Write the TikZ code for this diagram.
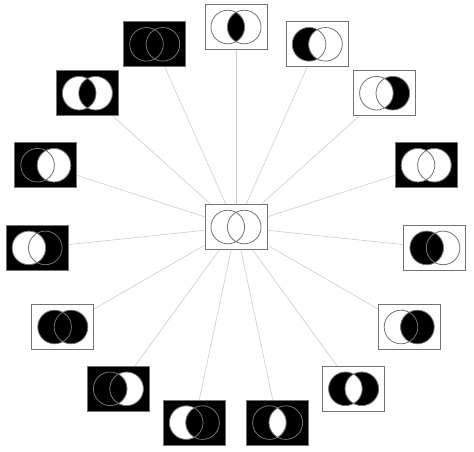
\documentclass[tikz,border=0pt]{standalone}
\usetikzlibrary{shapes}
\tikzset{vbox/.style={shape=rectangle,draw=black!55,line width=1pt,minimum width=62pt,minimum height=45pt,inner sep=0pt}}
% #1 box, #2 left circle, #3 right circle, #4 lens
\newcommand{\vennfill}[4]{%
\fill[#2] ([xshift=-8.2pt]#1.center) circle (16.8pt);
\fill[#3] ([xshift=8.2pt]#1.center) circle (16.8pt);
\begin{scope}
\clip ([xshift=-8.2pt]#1.center) circle (16.8pt);
\fill[#4] ([xshift=8.2pt]#1.center) circle (16.8pt);
\end{scope}
\draw[black!55,line width=0.8pt] ([xshift=-8.2pt]#1.center) circle (16.8pt) ([xshift=8.2pt]#1.center) circle (16.8pt);
}
\begin{document}
\begin{tikzpicture}[x=1pt,y=-1pt]
\useasboundingbox (0,0) rectangle (474,451);
\node[vbox,fill=white] (c) at (236,227) {};
\node[vbox,fill=white] (0) at (236,27) {};
\node[vbox,fill=white] (1) at (317.3,44.3) {};
\node[vbox,fill=white] (2) at (384.6,93.2) {};
\node[vbox,fill=black] (3) at (426.2,165.2) {};
\node[vbox,fill=white] (4) at (434.9,247.9) {};
\node[vbox,fill=white] (5) at (409.2,327) {};
\node[vbox,fill=white] (6) at (353.6,388.8) {};
\node[vbox,fill=black] (7) at (277.6,422.6) {};
\node[vbox,fill=black] (8) at (194.4,422.6) {};
\node[vbox,fill=black] (9) at (118.4,388.8) {};
\node[vbox,fill=white] (10) at (62.8,327) {};
\node[vbox,fill=black] (11) at (37.1,247.9) {};
\node[vbox,fill=black] (12) at (45.8,165.2) {};
\node[vbox,fill=black] (13) at (87.4,93.2) {};
\node[vbox,fill=black] (14) at (154.7,44.3) {};

\vennfill{c}{white}{white}{white}
\vennfill{0}{white}{white}{black}
\vennfill{1}{black}{white}{white}
\vennfill{2}{white}{black}{white}
\vennfill{3}{white}{white}{white}
\vennfill{4}{black}{white}{black}
\vennfill{5}{white}{black}{black}
\vennfill{6}{black}{black}{white}
\vennfill{7}{black}{black}{white}
\vennfill{8}{white}{black}{black}
\vennfill{9}{black}{white}{black}
\vennfill{10}{black}{black}{black}
\vennfill{11}{white}{black}{white}
\vennfill{12}{black}{white}{white}
\vennfill{13}{white}{white}{black}
\vennfill{14}{black}{black}{black}

\path [draw=black!20,line width=0.6pt] (c) edge (0) (c) edge (1) (c) edge (2) (c) edge (3) (c) edge (4);
\path [draw=black!20,line width=0.6pt] (c) edge (5) (c) edge (6) (c) edge (7) (c) edge (8) (c) edge (9);
\path [draw=black!20,line width=0.6pt] (c) edge (10) (c) edge (11) (c) edge (12) (c) edge (13) (c) edge (14);
\end{tikzpicture}
\end{document}
